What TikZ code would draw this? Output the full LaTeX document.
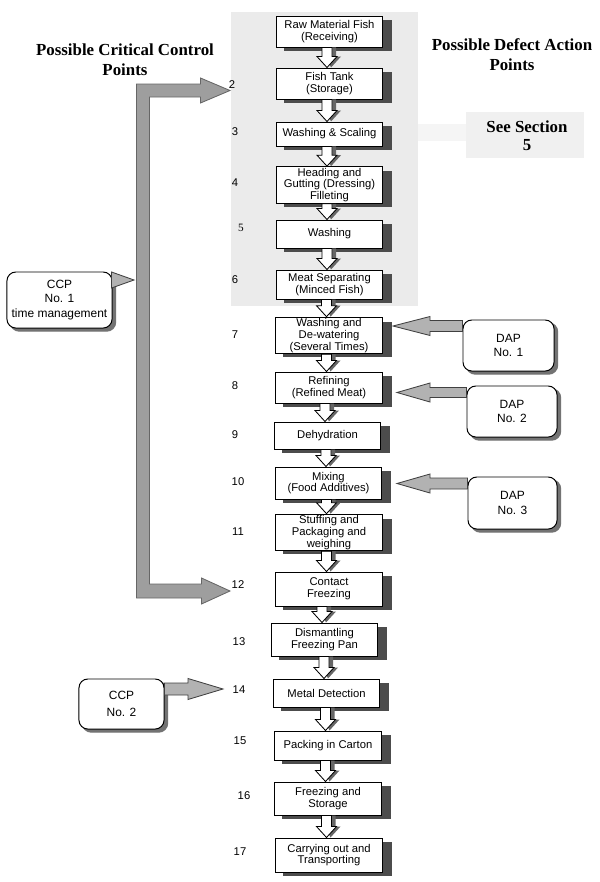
\documentclass[tikz,border=0pt]{standalone}
\usepackage{fontspec}
\setmainfont{Liberation Serif}
\setsansfont{Liberation Sans}
\usetikzlibrary{calc}

\begin{document}
\begin{tikzpicture}[x=0.025cm,y=-0.025cm]
	\path [use as bounding box] (0,0) rectangle (599,882);
	\tikzstyle{stepbox} = [draw, fill=white, line width=0.7pt, minimum width=2.65cm, align=center, inner sep=1pt, font=\sffamily\fontsize{8}{8.3}\selectfont]
	\tikzstyle{callbox} = [draw, fill=white, line width=0.7pt, rounded corners=0.22cm, align=center, font=\sffamily\fontsize{8.5}{10.5}\selectfont]
	\tikzstyle{numlab} = [font=\sffamily\fontsize{8}{9}\selectfont]
	\tikzstyle{heading} = [align=center, font=\bfseries\fontsize{12}{14.2}\selectfont]
	\tikzstyle{callarrow} = [fill=black!30, draw=black!75, line width=0.6pt]
	\tikzstyle{downarrow} = [fill=white, draw=black, line width=0.6pt]
	\tikzstyle{boxshadow} = [fill=black!70, draw=black!70, line width=1pt]

	% shaded part of the process
	\fill[black!8] (231,12) rectangle (418,306);
	\fill[black!4] (418,124) rectangle (468,141);
	\fill[black!6] (466,112) rectangle (584,158);

	% shadows of the boxes
	\filldraw[boxshadow] (284.5,21) rectangle (391.5,50.5);
	\filldraw[boxshadow] (284.5,73) rectangle (391.5,102.5);
	\filldraw[boxshadow] (284.5,127) rectangle (391.5,149.5);
	\filldraw[boxshadow] (284.5,172) rectangle (391.5,206.5);
	\filldraw[boxshadow] (284.5,225) rectangle (391.5,251.5);
	\filldraw[boxshadow] (284.5,275) rectangle (391.5,302.5);
	\filldraw[boxshadow] (284,323) rectangle (391,356.5);
	\filldraw[boxshadow] (284,377) rectangle (391,406.5);
	\filldraw[boxshadow] (282.5,427) rectangle (389.5,452.5);
	\filldraw[boxshadow] (283.5,472) rectangle (390.5,502.5);
	\filldraw[boxshadow] (284,520) rectangle (391,553.5);
	\filldraw[boxshadow] (284,577) rectangle (391,609.5);
	\filldraw[boxshadow] (279.5,628) rectangle (386.5,659.5);
	\filldraw[boxshadow] (281.5,684) rectangle (388.5,710.5);
	\filldraw[boxshadow] (283,736) rectangle (390,763.5);
	\filldraw[boxshadow] (283,787) rectangle (390,818.5);
	\filldraw[boxshadow] (284,843) rectangle (391,875.5);
	\filldraw[boxshadow, fill=black!55, draw=black!55, rounded corners=0.22cm] (10.5,275) rectangle (115.5,331);
	\filldraw[boxshadow, fill=black!55, draw=black!55, rounded corners=0.22cm] (82.5,682) rectangle (167.5,732);
	\filldraw[boxshadow, fill=black!55, draw=black!55, rounded corners=0.22cm] (466.5,323) rectangle (557.5,374);
	\filldraw[boxshadow, fill=black!55, draw=black!55, rounded corners=0.22cm] (470.5,389) rectangle (560.5,440);
	\filldraw[boxshadow, fill=black!55, draw=black!55, rounded corners=0.22cm] (471.5,480) rectangle (560.5,532);

	\node[heading] (ccptitle) at (125,60) {Possible Critical Control\\Points};
	\node[heading] (daptitle) at (512,55) {Possible Defect Action\\Points};
	\node[heading, font=\bfseries\fontsize{12}{13}\selectfont] (seesec) at (527,136) {See Section\\5};

	% process steps
	\node[stepbox, minimum height=0.775cm] (s1) at (329.5,31.5) {Raw Material Fish\\(Receiving)};
	\node[stepbox, minimum height=0.775cm] (s2) at (329.5,83.5) {Fish Tank\\(Storage)};
	\node[stepbox, minimum height=0.6cm] (s3) at (329.5,134) {Washing \& Scaling};
	\node[stepbox, minimum height=0.9cm] (s4) at (329.5,185) {Heading and\\Gutting (Dressing)\\Filleting};
	\node[stepbox, minimum height=0.7cm] (s5) at (329.5,234) {Washing};
	\node[stepbox, minimum height=0.725cm] (s6) at (329.5,284.5) {Meat Separating\\(Minced Fish)};
	\node[stepbox, minimum height=0.875cm] (s7) at (329,335.5) {Washing and\\De-watering\\(Several Times)};
	\node[stepbox, minimum height=0.775cm] (s8) at (329,387.5) {Refining\\(Refined Meat)};
	\node[stepbox, minimum height=0.675cm] (s9) at (327.5,435.5) {Dehydration};
	\node[stepbox, minimum height=0.8cm] (s10) at (328.5,483) {Mixing\\(Food Additives)};
	\node[stepbox, minimum height=0.875cm] (s11) at (329,532.5) {Stuffing and\\Packaging and\\weighing};
	\node[stepbox, minimum height=0.85cm] (s12) at (329,589) {Contact\\Freezing};
	\node[stepbox, minimum height=0.825cm] (s13) at (324.5,639.5) {Dismantling\\Freezing Pan};
	\node[stepbox, minimum height=0.7cm] (s14) at (326.5,693) {Metal Detection};
	\node[stepbox, minimum height=0.725cm] (s15) at (328,745.5) {Packing in Carton};
	\node[stepbox, minimum height=0.825cm] (s16) at (328,798.5) {Freezing and\\Storage};
	\node[stepbox, minimum height=0.85cm] (s17) at (329,855) {Carrying out and\\Transporting};

	% step numbers
	\node[numlab] (n2) at (232,85) {2};
	\node[numlab] (n3) at (235,132) {3};
	\node[numlab] (n4) at (235,183) {4};
	\node[numlab, font=\rmfamily\fontsize{8}{9}\selectfont] (n5) at (241,228) {5};
	\node[numlab] (n6) at (235,280) {6};
	\node[numlab] (n7) at (235,335) {7};
	\node[numlab] (n8) at (235,386) {8};
	\node[numlab] (n9) at (235,435) {9};
	\node[numlab] (n10) at (238,482) {10};
	\node[numlab] (n11) at (238,532) {11};
	\node[numlab] (n12) at (238,585) {12};
	\node[numlab] (n13) at (239,642) {13};
	\node[numlab] (n14) at (239,690) {14};
	\node[numlab] (n15) at (240,741) {15};
	\node[numlab] (n16) at (244,796) {16};
	\node[numlab] (n17) at (240,852) {17};

	% hollow arrows between the steps
	\foreach \a/\b in {s1/s2,s2/s3,s3/s4,s4/s5,s5/s6,s6/s7,s7/s8,s8/s9,s9/s10,s10/s11,s11/s12,s12/s13,s13/s14,s14/s15,s15/s16,s16/s17} {
		\coordinate (top) at (\b.north |- \a.south);
		\coordinate (bot) at (\b.north);
		\fill[black!60] ($(top)+(1.5,0)$) -- ($(bot)+(1.5,-11)$) -- ($(bot)+(-3.5,-11)$) -- ($(bot)+(1.5,0)$) -- ($(bot)+(11.5,-11)$) -- ($(bot)+(6.5,-11)$) -- ($(top)+(6.5,0)$) -- cycle;
		\filldraw[downarrow] ($(top)+(-7.5,0)$) -- ($(bot)+(-7.5,-11)$) -- ($(bot)+(-12.5,-11)$) -- ($(bot)+(-2.5,0)$) -- ($(bot)+(7.5,-11)$) -- ($(bot)+(2.5,-11)$) -- ($(top)+(2.5,0)$) -- cycle;
	}

	% critical control points
	\node[callbox, minimum width=2.625cm, minimum height=1.4cm] (ccp1) at (59.5,300) {CCP\\No. 1\\time management};
	\node[callbox, minimum width=2.125cm, minimum height=1.25cm] (ccp2) at (121.5,704) {CCP\\[2pt]No. 2};

	\coordinate (tip2) at (230,90.5);
	\coordinate (tip12) at (230,591);
	\filldraw[fill=black!38, draw=black!60, line width=0.6pt] (136.5,84) -- (200.5,84) -- (200.5,78) -- (tip2) -- (200.5,103) -- (200.5,97) -- (149.5,97) -- (149.5,584) -- (201.5,584) -- (201.5,578) -- (tip12) -- (201.5,604) -- (201.5,598) -- (136.5,598) -- cycle;

	\coordinate (c1tip) at (134,280);
	\filldraw[callarrow] (c1tip) -- ($(ccp1.east |- c1tip)+(-1,-8)$) -- ($(ccp1.east |- c1tip)+(-1,8)$) -- cycle;
	\coordinate (c2tip) at (223,689);
	\filldraw[callarrow] (c2tip) -- ++(-35,-10.5) -- ++(0,4.5) -- ($(ccp2.east |- c2tip)+(0,-6)$) -- ($(ccp2.east |- c2tip)+(0,6)$) -- ($(c2tip)+(-35,6)$) -- ++(0,4.5) -- cycle;

	% defect action points
	\node[callbox, minimum width=2.275cm, minimum height=1.275cm] (dap1) at (508.5,345.5) {DAP\\No. 1};
	\node[callbox, minimum width=2.25cm, minimum height=1.275cm] (dap2) at (512,411.5) {DAP\\No. 2};
	\node[callbox, minimum width=2.225cm, minimum height=1.3cm] (dap3) at (512.5,503) {DAP\\No. 3};

	\coordinate (d1tip) at (393,326);
	\coordinate (d2tip) at (397,392.5);
	\coordinate (d3tip) at (397,483.5);
	\filldraw[callarrow] (d1tip) -- ++(37,-9.5) -- ++(0,4) -- ($(dap1.west |- d1tip)+(0,-5.5)$) -- ($(dap1.west |- d1tip)+(0,5.5)$) -- ($(d1tip)+(37,5.5)$) -- ++(0,4) -- cycle;
	\filldraw[callarrow] (d2tip) -- ++(33,-9.5) -- ++(0,4.5) -- ($(dap2.west |- d2tip)+(0,-5)$) -- ($(dap2.west |- d2tip)+(0,5)$) -- ($(d2tip)+(33,5)$) -- ++(0,4.5) -- cycle;
	\filldraw[callarrow] (d3tip) -- ++(33,-9.5) -- ++(0,4) -- ($(dap3.west |- d3tip)+(0,-5.5)$) -- ($(dap3.west |- d3tip)+(0,5.5)$) -- ($(d3tip)+(33,5.5)$) -- ++(0,4) -- cycle;
\end{tikzpicture}
\end{document}
